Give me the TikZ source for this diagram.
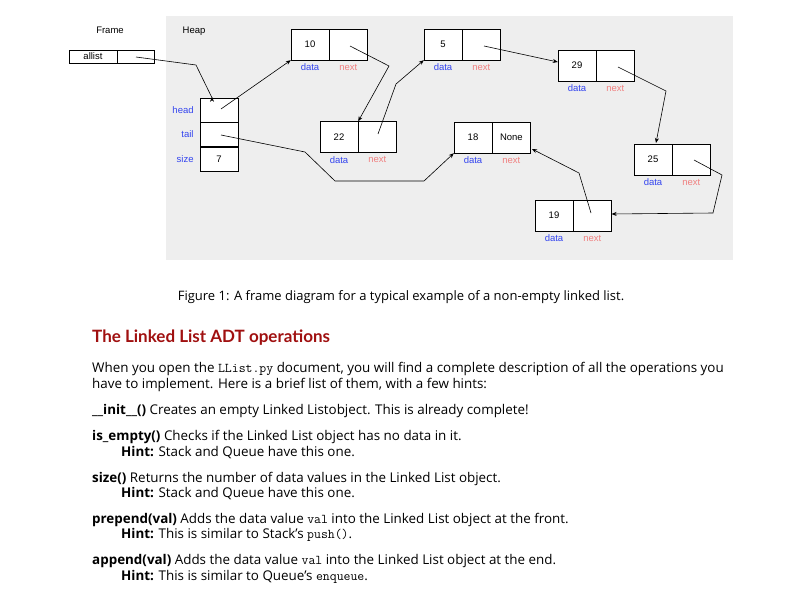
\documentclass[tikz,border=0pt]{standalone}
\usepackage{fontspec}
\setmainfont{Open Sans}
\newfontfamily\titlefont{Lato}
\newfontfamily\diafont{Liberation Sans}
\usetikzlibrary{arrows.meta}
\definecolor{heapgray}{HTML}{EEEEEE}
\definecolor{datablue}{HTML}{3344EE}
\definecolor{nextpink}{HTML}{F08080}
\definecolor{headred}{HTML}{A01010}
\tikzset{
  cell/.style={draw, fill=white, minimum width=38pt, minimum height=31pt, inner sep=0pt, font=\diafont\fontsize{9.5}{10}\selectfont},
  field/.style={cell, minimum height=24pt},
  lbl/.style={font=\diafont\fontsize{9.5}{10}\selectfont, inner sep=0pt},
  ptr/.style={-{Stealth[length=5pt,width=4pt]}, line width=0.6pt},
  txt/.style={anchor=west, inner sep=0pt, font=\fontsize{13.4}{15}\selectfont},
}
% listnode: name, x, y (centre of data cell), value
\newcommand{\listnode}[4]{
  \node (#1) [cell] at (#2,#3) {#4};
  \node (#1n) [cell, anchor=west] at (#1.east) {};
  \node [lbl, text=datablue] at ([yshift=-7pt]#1.south) {data};
  \node [lbl, text=nextpink] at ([yshift=-7pt]#1n.south) {next};
}
\begin{document}
\begin{tikzpicture}[x=1pt, y=-1pt]
\useasboundingbox (0,0) rectangle (797,589);
\fill [heapgray] (166,16) rectangle (733,260);
% frame
\node (frame) [lbl] at (110,30) {Frame};
\node (heap) [lbl] at (194,31) {Heap};
\node (allist) [draw, fill=white, minimum width=48pt, minimum height=13pt, inner sep=0pt, font=\diafont\fontsize{9.5}{10}\selectfont] at (93,56.5) {allist};
\node (allistp) [draw, fill=white, minimum width=37pt, minimum height=13pt, inner sep=0pt, anchor=west] at (allist.east) {};
% list object
\node (head) [field] at (219,110) {};
\node (tail) [field, anchor=north] at (head.south) {};
\node (size) [field, anchor=north, font=\diafont\fontsize{9.5}{10}\selectfont] at (tail.south) {7};
\node [lbl, text=datablue, anchor=east] at ([xshift=-6pt]head.west) {head};
\node [lbl, text=datablue, anchor=east] at ([xshift=-6pt]tail.west) {tail};
\node [lbl, text=datablue, anchor=east] at ([xshift=-6pt]size.west) {size};
% nodes
\listnode{a}{310}{44.5}{10}
\listnode{b}{339}{137}{22}
\listnode{c}{443}{44.5}{5}
\listnode{d}{577}{65.5}{29}
\listnode{e}{473}{137.5}{18}
\node [cell, anchor=west] at (e.east) {None};
\listnode{f}{653}{159.5}{25}
\listnode{g}{554}{215.5}{19}
% pointers
\coordinate (pa) at (136,57);
\coordinate (ph) at (221,109);
\coordinate (pt) at (221,135);
\coordinate (p1) at (350,46);
\coordinate (p2) at (378,134);
\coordinate (p3) at (484,46);
\coordinate (p4) at (618,67);
\coordinate (p5) at (694,160);
\coordinate (p6) at (591,213);
\draw [ptr] (pa) -- (196,65) -- (head.north west -| 212,0) ++(0,-1);
\draw [ptr] (ph) -- (a.south west);
\draw [ptr] (p1) -- (389,66) -- (b.north east);
\draw [ptr] (p2) -- (396,84) -- (c.south west);
\draw [ptr] (p3) -- (d.north west |- 0,62);
\draw [ptr] (p4) -- (666,91) -- (656,143);
\draw [ptr] (p5) -- (722,175) -- (713,213) -- (gn.east |- 0,214);
\draw [ptr] (p6) -- (579,173) -- (532,149);
\draw [ptr] (pt) -- (305,152) -- (335,181) -- (424,181) -- (e.south west);
% text
\node (caption) [txt, anchor=center, font=\fontsize{13}{14}\selectfont] at (401,297) {Figure 1: A frame diagram for a typical example of a non-empty linked list.};
\node (title) [txt, font=\titlefont\fontsize{17}{19}\bfseries\selectfont, text=headred] at (92,338) {The Linked List ADT operations};
\node (para1) [txt] at (92,369) {When you open the \texttt{LList.py} document, you will find a complete description of all the operations you};
\node (para2) [txt] at (92,385) {have to implement. Here is a brief list of them, with a few hints:};
\node (init) [txt] at (92,411) {\textbf{\_\_init\_\_()} Creates an empty Linked Listobject. This is already complete!};
\node (empty) [txt] at (92,437) {\textbf{is\_empty()} Checks if the Linked List object has no data in it.};
\node (emptyh) [txt] at (121,453) {\textbf{Hint:} Stack and Queue have this one.};
\node (size1) [txt] at (92,479) {\textbf{size()} Returns the number of data values in the Linked List object.};
\node (sizeh) [txt] at (121,494) {\textbf{Hint:} Stack and Queue have this one.};
\node (prep) [txt] at (92,520) {\textbf{prepend(val)} Adds the data value \texttt{val} into the Linked List object at the front.};
\node (preph) [txt] at (121,535) {\textbf{Hint:} This is similar to Stack's \texttt{push()}.};
\node (app) [txt] at (92,561) {\textbf{append(val)} Adds the data value \texttt{val} into the Linked List object at the end.};
\node (apph) [txt] at (121,577) {\textbf{Hint:} This is similar to Queue's \texttt{enqueue}.};
\end{tikzpicture}
\end{document}
